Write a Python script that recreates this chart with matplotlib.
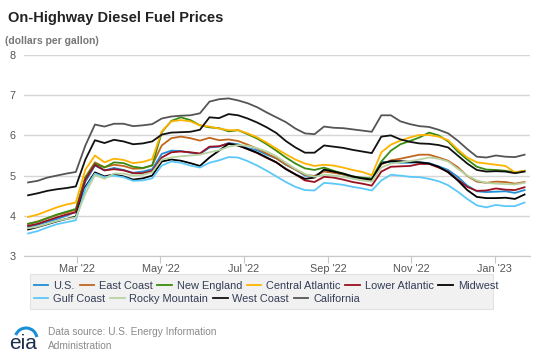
import matplotlib
matplotlib.use("Agg")
import matplotlib.pyplot as plt
import matplotlib.dates as mdates
from matplotlib.lines import Line2D
from matplotlib.patches import Rectangle, Arc
import pandas as pd

plt.rcParams['font.family'] = ['Liberation Sans', 'DejaVu Sans']

weeks = pd.date_range('2022-01-24', periods=53, freq='7D')

us = [3.72, 3.78, 3.85, 3.92, 4.00, 4.10, 4.85, 5.25, 5.13, 5.19, 5.14, 5.07, 5.10, 5.16,
      5.54, 5.62, 5.61, 5.57, 5.54, 5.70, 5.72, 5.81, 5.78, 5.68, 5.63, 5.52, 5.43, 5.27,
      5.15, 5.00, 4.99, 5.12, 5.08, 5.03, 4.96, 4.92, 4.88, 5.34, 5.34, 5.32, 5.32, 5.33,
      5.31, 5.23, 5.14, 4.97, 4.75, 4.61, 4.59, 4.60, 4.61, 4.57, 4.64]
east_coast = [3.80, 3.86, 3.94, 4.02, 4.08, 4.15, 4.96, 5.33, 5.21, 5.27, 5.24, 5.17, 5.18, 5.26,
              5.75, 5.93, 5.97, 5.93, 5.87, 5.94, 5.88, 5.90, 5.86, 5.77, 5.67, 5.55, 5.43, 5.28,
              5.15, 5.02, 4.99, 5.10, 5.07, 5.03, 4.97, 4.93, 4.88, 5.28, 5.38, 5.42, 5.47, 5.52,
              5.52, 5.45, 5.37, 5.21, 4.99, 4.85, 4.82, 4.85, 4.84, 4.80, 4.84]
new_england = [3.80, 3.85, 3.94, 4.03, 4.10, 4.17, 4.95, 5.30, 5.20, 5.33, 5.31, 5.22, 5.19, 5.25,
               6.08, 6.36, 6.45, 6.38, 6.25, 6.20, 6.18, 6.10, 6.13, 6.03, 5.92, 5.78, 5.62, 5.45,
               5.30, 5.18, 5.14, 5.20, 5.12, 5.05, 4.98, 4.95, 4.93, 5.35, 5.62, 5.78, 5.86, 5.95,
               6.07, 6.00, 5.85, 5.60, 5.40, 5.22, 5.15, 5.14, 5.12, 5.08, 5.12]
central_atlantic = [3.97, 4.03, 4.12, 4.21, 4.28, 4.33, 5.15, 5.50, 5.33, 5.42, 5.39, 5.31, 5.34, 5.41,
                    6.10, 6.35, 6.38, 6.35, 6.25, 6.22, 6.17, 6.13, 6.13, 6.05, 5.95, 5.82, 5.67, 5.53,
                    5.40, 5.30, 5.24, 5.27, 5.25, 5.20, 5.14, 5.09, 5.01, 5.58, 5.77, 5.87, 5.95, 6.01,
                    6.01, 5.97, 5.88, 5.65, 5.45, 5.33, 5.30, 5.27, 5.24, 5.08, 5.12]
lower_atlantic = [3.75, 3.80, 3.88, 3.96, 4.03, 4.09, 4.90, 5.27, 5.13, 5.16, 5.13, 5.06, 5.06, 5.12,
                  5.45, 5.58, 5.60, 5.58, 5.55, 5.72, 5.73, 5.80, 5.75, 5.66, 5.56, 5.44, 5.33, 5.17,
                  5.03, 4.88, 4.84, 4.97, 4.95, 4.90, 4.84, 4.80, 4.75, 5.10, 5.22, 5.23, 5.24, 5.29,
                  5.29, 5.20, 5.10, 4.90, 4.72, 4.62, 4.63, 4.68, 4.65, 4.64, 4.71]
midwest = [3.66, 3.72, 3.79, 3.86, 3.92, 3.98, 4.72, 5.08, 4.98, 5.03, 4.98, 4.90, 4.93, 5.00,
           5.35, 5.40, 5.37, 5.31, 5.24, 5.45, 5.62, 5.79, 5.75, 5.66, 5.57, 5.45, 5.33, 5.16,
           5.03, 4.92, 4.95, 5.15, 5.10, 5.05, 4.98, 4.93, 4.90, 5.30, 5.36, 5.36, 5.34, 5.33,
           5.30, 5.22, 5.08, 4.88, 4.64, 4.47, 4.44, 4.44, 4.45, 4.42, 4.53]
gulf_coast = [3.56, 3.62, 3.71, 3.79, 3.84, 3.89, 4.68, 5.05, 4.96, 5.00, 4.96, 4.87, 4.88, 4.93,
              5.25, 5.35, 5.32, 5.25, 5.20, 5.32, 5.38, 5.46, 5.45, 5.36, 5.25, 5.12, 4.98, 4.84,
              4.72, 4.64, 4.63, 4.82, 4.80, 4.77, 4.72, 4.68, 4.63, 4.88, 5.02, 5.00, 4.97, 4.96,
              4.92, 4.86, 4.76, 4.60, 4.42, 4.26, 4.21, 4.27, 4.24, 4.24, 4.33]
rocky_mountain = [3.69, 3.73, 3.80, 3.87, 3.92, 3.96, 4.55, 5.02, 4.92, 5.05, 5.05, 5.00, 5.02, 5.08,
                  5.40, 5.45, 5.48, 5.50, 5.52, 5.58, 5.63, 5.72, 5.76, 5.74, 5.68, 5.60, 5.48, 5.32,
                  5.17, 5.04, 4.97, 5.02, 5.00, 4.97, 4.92, 4.88, 4.85, 5.20, 5.30, 5.33, 5.36, 5.40,
                  5.45, 5.42, 5.35, 5.17, 5.00, 4.88, 4.82, 4.80, 4.79, 4.78, 4.82]
west_coast = [4.51, 4.56, 4.62, 4.66, 4.69, 4.73, 5.40, 5.88, 5.81, 5.89, 5.85, 5.78, 5.80, 5.85,
              6.02, 6.07, 6.08, 6.09, 6.14, 6.45, 6.43, 6.53, 6.50, 6.42, 6.32, 6.20, 6.06, 5.86,
              5.70, 5.57, 5.57, 5.75, 5.72, 5.69, 5.64, 5.60, 5.56, 5.97, 6.00, 5.90, 5.84, 5.80,
              5.79, 5.76, 5.70, 5.50, 5.30, 5.14, 5.10, 5.11, 5.10, 5.06, 5.10]
california = [4.83, 4.87, 4.95, 5.00, 5.05, 5.09, 5.75, 6.27, 6.22, 6.29, 6.29, 6.23, 6.25, 6.28,
              6.42, 6.47, 6.49, 6.50, 6.55, 6.84, 6.90, 6.92, 6.87, 6.80, 6.70, 6.57, 6.45, 6.33,
              6.17, 6.05, 6.03, 6.22, 6.19, 6.18, 6.15, 6.12, 6.09, 6.50, 6.50, 6.35, 6.28, 6.23,
              6.21, 6.14, 6.05, 5.87, 5.66, 5.47, 5.45, 5.50, 5.47, 5.46, 5.52]

names = ['U.S.', 'East Coast', 'New England', 'Central Atlantic', 'Lower Atlantic', 'Midwest',
         'Gulf Coast', 'Rocky Mountain', 'West Coast', 'California']
series = [us, east_coast, new_england, central_atlantic, lower_atlantic, midwest,
          gulf_coast, rocky_mountain, west_coast, california]
colors = ['#1f8fd6', '#c0661e', '#3a8c12', '#ffb300', '#9b1020', '#000000',
          '#5cc8fa', '#b7d3a3', '#111111', '#555555']

fig = plt.figure(figsize=(5.4, 3.59), dpi=100)
ax = fig.add_axes([24 / 540, 1 - 256 / 359, 506 / 540, 201 / 359])

for name, vals, c in zip(names, series, colors):
    ax.plot(weeks, vals, color=c, lw=1.3, solid_joinstyle='round')

ax.set_ylim(3, 8)
ax.set_xlim(pd.Timestamp('2022-01-21'), pd.Timestamp('2023-01-27'))
ax.set_yticks([3, 4, 5, 6, 7, 8])
ax.grid(axis='y', color='#d6d6d6', lw=1)
ax.set_axisbelow(True)
for s in ['top', 'right', 'left']:
    ax.spines[s].set_visible(False)
ax.spines['bottom'].set_color('#c8c8c8')
ax.xaxis.set_major_locator(mdates.MonthLocator(bymonth=[1, 3, 5, 7, 9, 11]))
ax.xaxis.set_major_formatter(mdates.DateFormatter("%b '%y"))
ax.tick_params(axis='x', colors='#c8c8c8', length=5, labelcolor='#555555', labelsize=7.8, pad=1)
ax.tick_params(axis='y', length=0, labelcolor='#555555', labelsize=7.8, pad=6)

fig.text(8 / 540, 1 - 18 / 359, 'On-Highway Diesel Fuel Prices', fontsize=10.5,
         fontweight='bold', color='#222222', va='center')
fig.text(5 / 540, 1 - 41 / 359, '(dollars per gallon)', fontsize=7.5,
         fontweight='bold', color='#777777', va='center')

# legend box
fig.patches.append(Rectangle((30 / 540, 1 - 309 / 359), 463 / 540, 35 / 359,
                             transform=fig.transFigure, facecolor='#f1f1f1',
                             edgecolor='#e2e2e2', lw=0.8, zorder=0))
handles = [Line2D([], [], color=c, lw=1.3) for c in colors]
leg_kw = dict(frameon=False, fontsize=7.9, handlelength=1.3, handletextpad=0.45,
              columnspacing=0.45, borderaxespad=0, borderpad=0, loc='upper left')
leg1 = fig.legend(handles[:6], names[:6], ncol=6, bbox_to_anchor=(34 / 540, 1 - 281 / 359), **leg_kw)
leg2 = fig.legend(handles[6:], names[6:], ncol=4, bbox_to_anchor=(34 / 540, 1 - 294 / 359), **leg_kw)
for lg in (leg1, leg2):
    for t in lg.get_texts():
        t.set_color('#333d55')

# footer with eia mark
fig.text(9 / 540, 1 - 349 / 359, 'eia', fontsize=15, color='#1c2e4a', va='baseline')
fig.patches.append(Arc((26 / 540, 1 - 339 / 359), 22 / 540, 22 / 359, theta1=15, theta2=150,
                       transform=fig.transFigure, color='#1a8ed6', lw=2.2))
fig.text(48 / 540, 1 - 332 / 359, 'Data source: U.S. Energy Information', fontsize=7.3,
         color='#8a8a8a', va='center')
fig.text(48 / 540, 1 - 346 / 359, 'Administration', fontsize=7.3, color='#8a8a8a', va='center')

fig.savefig('out.png', dpi=100)
